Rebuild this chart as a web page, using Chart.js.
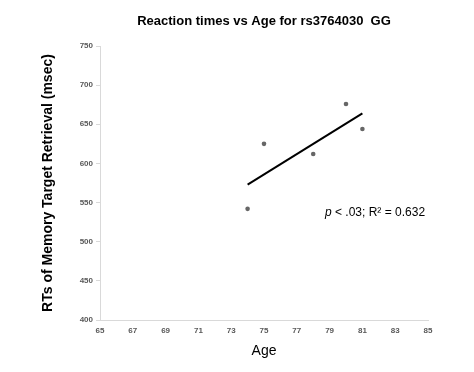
<!DOCTYPE html>
<html>
<head>
<meta charset="utf-8">
<script src="https://cdn.jsdelivr.net/npm/chart.js@4/dist/chart.umd.min.js"></script>
<style>
  html, body { margin: 0; padding: 0; background: #fff; }
  #wrap { width: 474px; height: 372px; }
</style>
</head>
<body>
<div id="wrap"><canvas id="graphique" width="474" height="372"></canvas></div>
<script>
  const titre = "Reaction times vs Age for rs3764030  GG";
  const ages = [74, 75, 78, 80, 81];
  const rts = [542, 625, 612, 676, 644];
  const trendAges = [74, 81];
  const trendRts = [573, 664];
  const xTicks = [65, 67, 69, 71, 73, 75, 77, 79, 81, 83, 85];
  const yTicks = [400, 450, 500, 550, 600, 650, 700, 750];

  // titre + annotation dessinés à la main
  const textes = {
    id: "textes",
    afterDraw(chart) {
      const ctx = chart.ctx;
      const area = chart.chartArea;
      ctx.save();
      ctx.fillStyle = "#000";
      ctx.font = "bold 13px 'Liberation Sans', Arial, sans-serif";
      ctx.textAlign = "center";
      ctx.textBaseline = "middle";
      ctx.fillText(titre, (area.left + area.right) / 2, 21);

      ctx.textAlign = "left";
      let x = 325, y = 213;
      ctx.font = "italic 12px 'Liberation Sans', Arial, sans-serif";
      ctx.fillText("p", x, y);
      x += ctx.measureText("p").width;
      ctx.font = "12px 'Liberation Sans', Arial, sans-serif";
      ctx.fillText(" < .03; R² = 0.632", x, y);
      ctx.restore();
    }
  };

  const ctx = document.getElementById("graphique").getContext("2d");
  new Chart(ctx, {
    type: "scatter",
    data: {
      datasets: [{
        label: "RT",
        data: ages.map((a, i) => ({ x: a, y: rts[i] })),
        backgroundColor: "#666",
        borderColor: "#666",
        borderWidth: 0,
        pointRadius: 2.3,
        pointHoverRadius: 2.3
      }, {
        label: "Trend",
        data: trendAges.map((a, i) => ({ x: a, y: trendRts[i] })),
        showLine: true,
        borderColor: "#000",
        borderWidth: 2,
        pointRadius: 0,
        fill: false
      }]
    },
    options: {
      responsive: false,
      animation: false,
      layout: { padding: { top: 46, right: 46, bottom: 0, left: 0 } },
      plugins: {
        legend: { display: false },
        title: { display: false },
        tooltip: { enabled: false }
      },
      scales: {
        x: {
          type: "linear",
          min: 65,
          max: 85,
          afterBuildTicks: s => { s.ticks = xTicks.map(v => ({ value: v })); },
          afterFit: s => { s.height = 52; },
          grid: { display: true, drawOnChartArea: false, drawTicks: false, color: "#d9d9d9" },
          border: { color: "#d9d9d9", width: 1 },
          ticks: {
            color: "#595959",
            padding: 6,
            maxRotation: 0,
            font: { family: "'Liberation Sans', Arial", size: 8, weight: "bold" }
          },
          title: {
            display: true,
            text: "Age",
            color: "#000",
            font: { family: "'Liberation Sans', Arial", size: 14 },
            padding: { top: 0, bottom: 12 }
          }
        },
        y: {
          min: 400,
          max: 750,
          afterBuildTicks: s => { s.ticks = yTicks.map(v => ({ value: v })); },
          afterFit: s => { s.width = 100; },
          grid: { display: true, drawOnChartArea: false, drawTicks: true, tickLength: 4, color: "#d9d9d9" },
          border: { color: "#d9d9d9", width: 1 },
          ticks: {
            color: "#595959",
            padding: 3,
            font: { family: "'Liberation Sans', Arial", size: 8, weight: "bold" }
          },
          title: {
            display: true,
            text: "RTs of Memory Target Retrieval (msec)",
            color: "#000",
            font: { family: "'Liberation Sans', Arial", size: 14, weight: "bold" },
            padding: { top: 40, bottom: 0 }
          }
        }
      }
    },
    plugins: [textes]
  });
</script>
</body>
</html>
